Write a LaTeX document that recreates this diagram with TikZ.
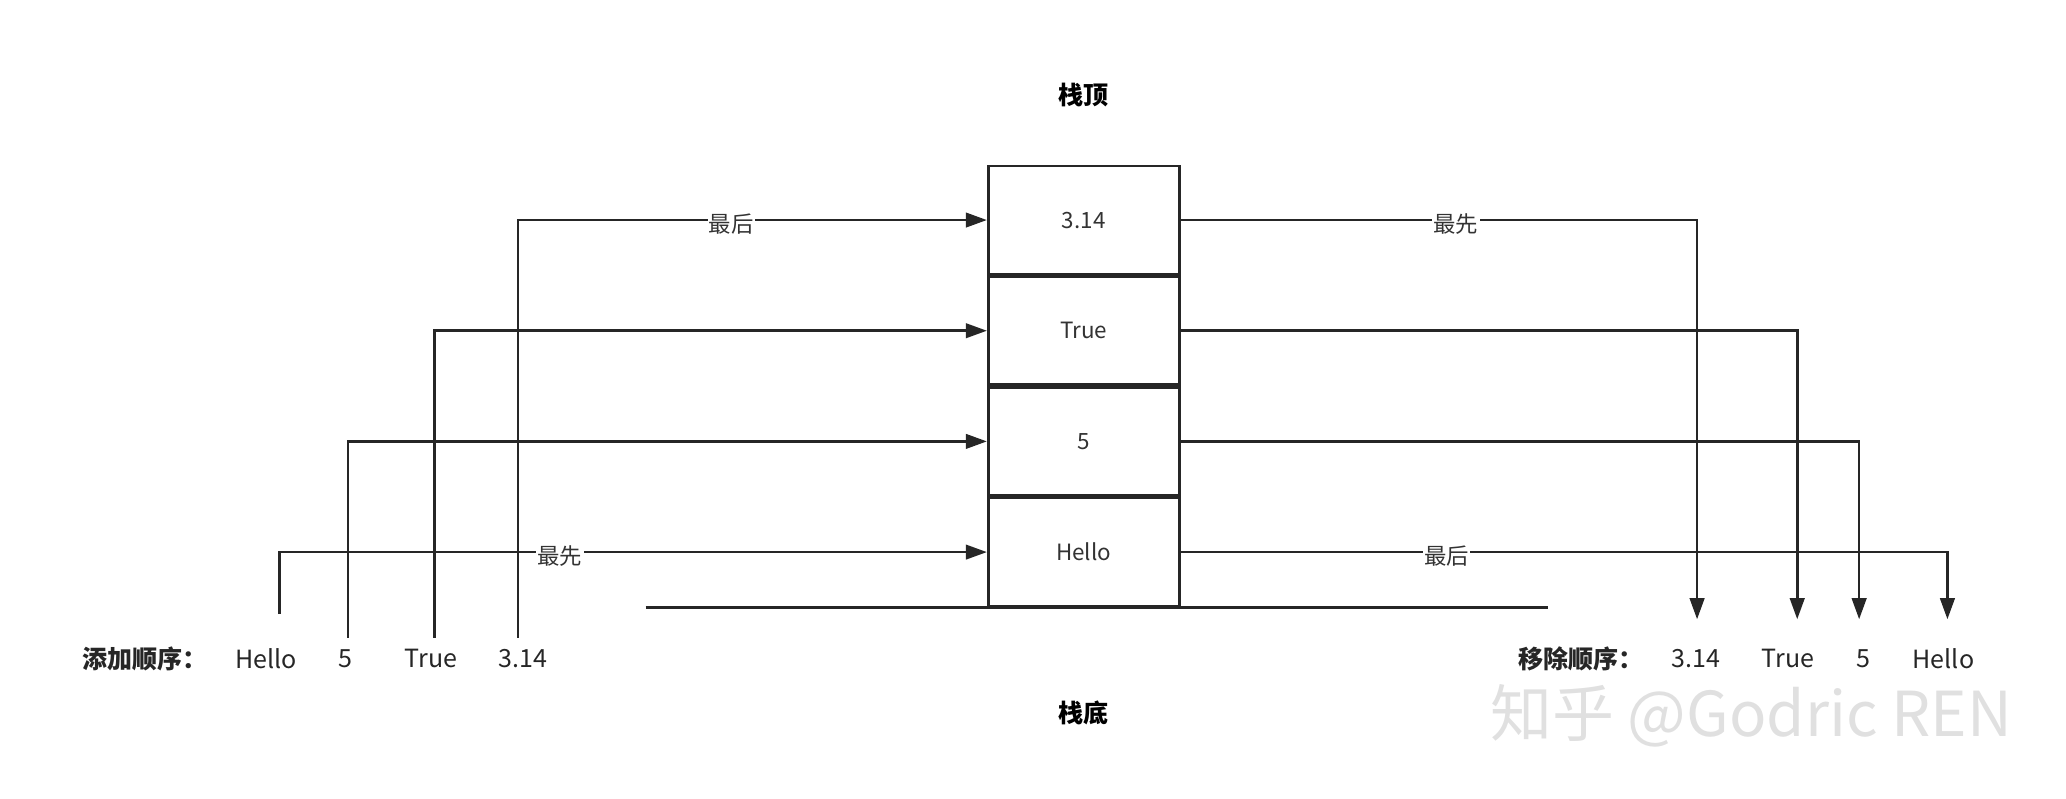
\documentclass[tikz,border=0pt]{standalone}
\usepackage{fontspec}
\setmainfont{Noto Sans CJK SC}
\usetikzlibrary{arrows.meta}
\begin{document}
\begin{tikzpicture}[x=1pt,y=-1pt,
  box/.style={draw=black!85,line width=2pt,minimum width=145pt,minimum height=82pt,inner sep=0,font=\fontsize{17}{20}\selectfont,text=black!80},
  ln/.style={draw=black!85,line width=2pt},
  arr/.style={ln,-{Triangle[length=16pt,width=11pt]}},
  lab/.style={fill=white,inner sep=1pt,font=\fontsize{17}{20}\selectfont,text=black!80},
  bl/.style={font=\fontsize{19}{22}\selectfont,text=black!85}]
\useasboundingbox (0,0) rectangle (1568,606);
\node[box] (b1) at (822.5,167) {3.14};
\node[box] (b2) at (822.5,251) {True};
\node[box] (b3) at (822.5,335) {5};
\node[box] (b4) at (822.5,419) {Hello};
\coordinate (g1) at (490,461); \coordinate (g2) at (1175,461);
\draw[ln] (g1) -- (g2);
\node[font=\bfseries\fontsize{19}{22}\selectfont] (top) at (822,72) {栈顶};
\node[font=\bfseries\fontsize{19}{22}\selectfont] (bot) at (822,541) {栈底};
% left labels
\node[bl,font=\bfseries\fontsize{19}{22}\selectfont] (addl) at (110,500) {添加顺序：};
\node[bl] (ah) at (202,500) {Hello};
\node[bl] (a5) at (262,500) {5};
\node[bl] (at) at (327,500) {True};
\node[bl] (a3) at (397,500) {3.14};
\coordinate (sh) at (212,466);
\coordinate (s5) at (264,484);
\coordinate (st) at (330,484);
\coordinate (s3) at (393,484);
\draw[arr] (sh) |- (b4.west);
\draw[arr] (s5) |- (b3.west);
\draw[arr] (st) |- (b2.west);
\draw[arr] (s3) |- (b1.west);
\node[lab] (l1) at (555,170) {最后};
\node[lab] (l2) at (425,422) {最先};
% right labels
\node[bl,font=\bfseries\fontsize{19}{22}\selectfont] (rml) at (1200,500) {移除顺序：};
\node[bl] (r3) at (1287,500) {3.14};
\node[bl] (rt) at (1357,500) {True};
\node[bl] (r5) at (1414,500) {5};
\node[bl] (rh) at (1475,500) {Hello};
\coordinate (e1) at (1288,470); \coordinate (e2) at (1364,470);
\coordinate (e3) at (1411,470); \coordinate (e4) at (1478,470);
\draw[arr] (b1.east) -| (e1);
\draw[arr] (b2.east) -| (e2);
\draw[arr] (b3.east) -| (e3);
\draw[arr] (b4.east) -| (e4);
\node[lab] (l3) at (1105,170) {最先};
\node[lab] (l4) at (1098,422) {最后};
\node[text=black!12,font=\fontsize{47}{52}\selectfont] (wm) at (1329,543) {知乎 @Godric REN};
\end{tikzpicture}
\end{document}
